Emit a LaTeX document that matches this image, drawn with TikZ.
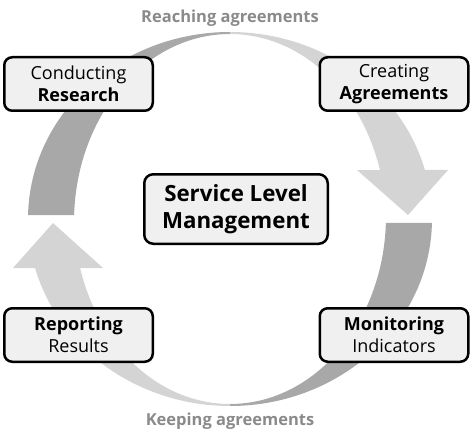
\documentclass[tikz,border=0pt]{standalone}
\usepackage{fontspec}
\setmainfont{Open Sans}
\definecolor{ringdark}{HTML}{A8A8A8}
\definecolor{ringlight}{HTML}{D4D4D4}
\definecolor{boxfill}{HTML}{F0F0F0}
\definecolor{labelgray}{HTML}{8A8A8A}
\tikzset{
  stagebox/.style={draw=black, line width=2.5pt, rounded corners=8pt, fill=boxfill,
    minimum width=148.5pt, minimum height=53.5pt, inner sep=0pt, align=center,
    font=\fontsize{18}{22}\selectfont},
  centerbox/.style={draw=black, line width=2.5pt, rounded corners=9pt, fill=boxfill,
    minimum width=183.5pt, minimum height=69.5pt, inner sep=0pt, align=center,
    font=\fontsize{22.3}{27.5}\selectfont\bfseries},
  phaselabel/.style={text=labelgray, font=\fontsize{16.5}{19}\selectfont\bfseries, anchor=base}
}
\begin{document}
\begin{tikzpicture}[x=1pt,y=1pt]
\useasboundingbox (0,0) rectangle (474,440);
% top arrow: dark half
\fill[ringdark] (230,221) ++(178.8:202 and 187)
  arc[start angle=178.8, end angle=90, x radius=202pt, y radius=187pt]
  -- (230,406)
  arc[start angle=90, end angle=177.9, x radius=156pt, y radius=188pt]
  -- cycle;
% top arrow: light half with head
\fill[ringlight] (230,408)
  arc[start angle=90, end angle=15.2, x radius=202pt, y radius=187pt]
  -- (448,270) -- (408,225) -- (357,270) -- (379.9,270)
  arc[start angle=16.06, end angle=90, x radius=156pt, y radius=188pt]
  -- cycle;
% bottom arrow: dark half
\fill[ringdark] (230,221) ++(-1.22:202 and 187)
  arc[start angle=-1.22, end angle=-90, x radius=202pt, y radius=187pt]
  -- (230,36)
  arc[start angle=-90, end angle=-2.13, x radius=156pt, y radius=188pt]
  -- cycle;
% bottom arrow: light half with head
\fill[ringlight] (230,34)
  arc[start angle=270, end angle=195.2, x radius=202pt, y radius=187pt]
  -- (13,172) -- (53,217) -- (103,172) -- (80.1,172)
  arc[start angle=196.06, end angle=270, x radius=156pt, y radius=188pt]
  -- cycle;
% boxes
\node[stagebox] (research) at (78.5,356) {Conducting\\\textbf{Research}};
\node[stagebox] (agree) at (394,356) {Creating\\\textbf{Agreements}};
\node[centerbox] (slm) at (236,231) {Service Level\\Management};
\node[stagebox] (report) at (78.5,105) {\textbf{Reporting}\\Results};
\node[stagebox] (monitor) at (394,105) {\textbf{Monitoring}\\Indicators};
% phase labels
\node[phaselabel] (reach) at (230,417.3) {Reaching agreements};
\node[phaselabel] (keep) at (230,15) {Keeping agreements};
\end{tikzpicture}
\end{document}
